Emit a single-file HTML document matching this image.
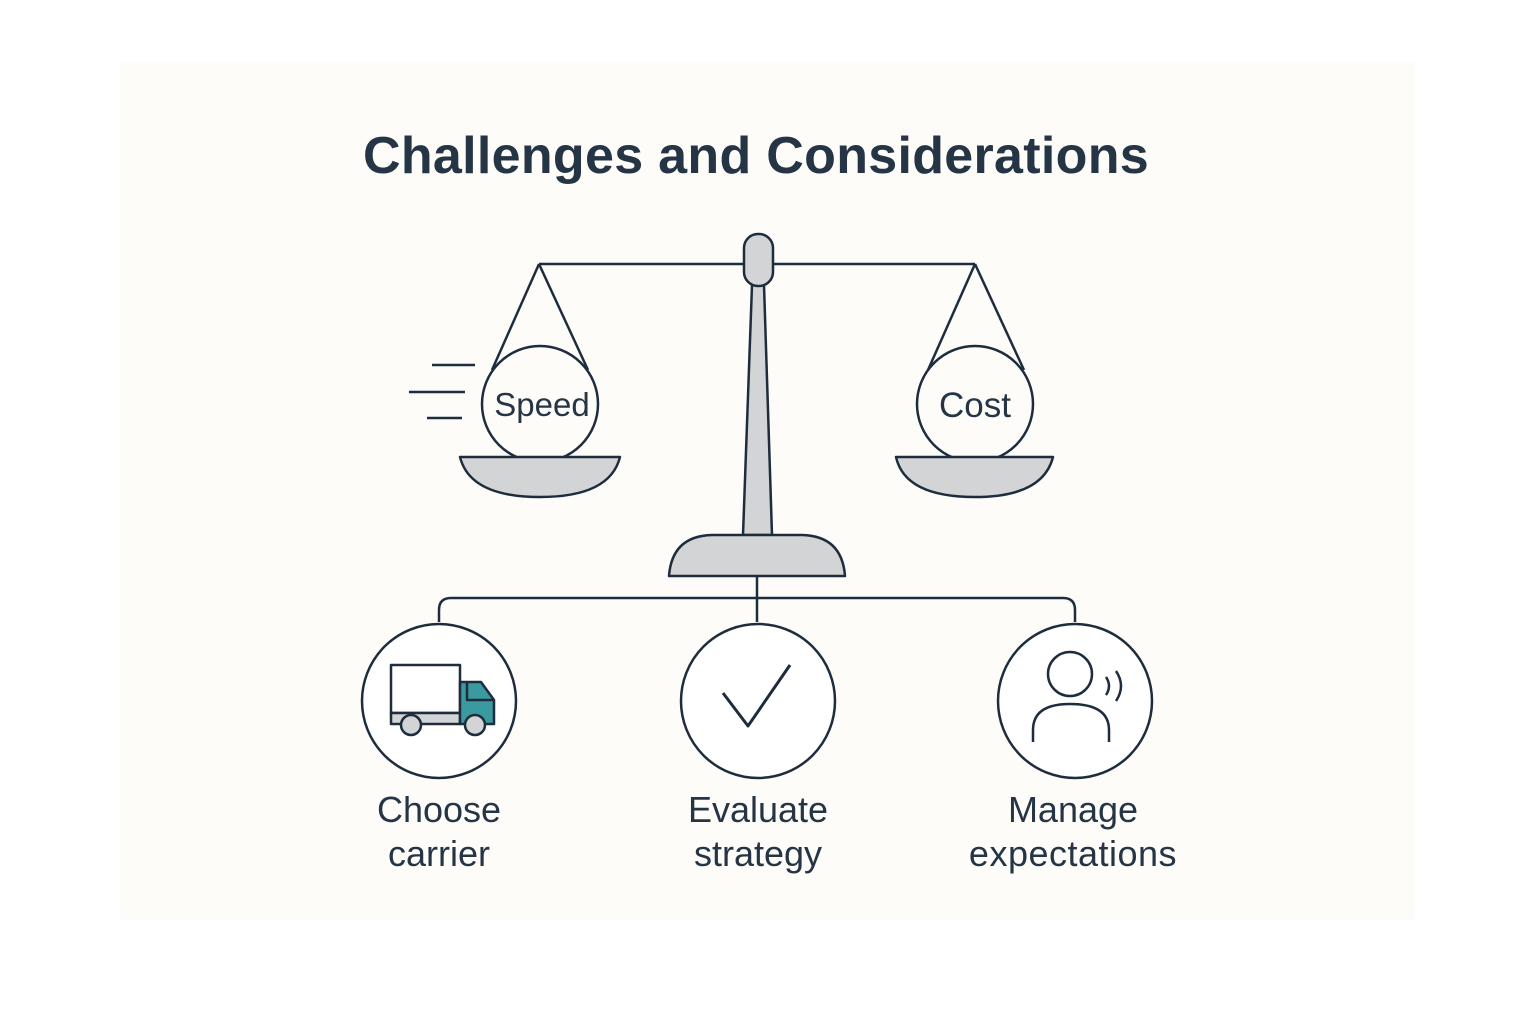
<!DOCTYPE html>
<html><head><style>
html,body{margin:0;padding:0;background:#fff;}
svg{display:block}
text{font-family:"Liberation Sans",sans-serif;fill:#253545}
</style></head><body>
<svg width="1536" height="1024" viewBox="0 0 1536 1024">
<rect x="120" y="62" width="1295" height="858" fill="#fdfcf8"/>
<text x="756" y="173" text-anchor="middle" font-size="52" font-weight="bold" letter-spacing="0.3">Challenges and Considerations</text>
<g stroke="#1e2d3d" stroke-width="2.5" fill="none" stroke-linejoin="round">
<line x1="539" y1="264" x2="975" y2="264"/>
<line x1="539" y1="264" x2="492" y2="370"/><line x1="539" y1="264" x2="588" y2="370"/>
<line x1="975" y1="264" x2="928" y2="370"/><line x1="975" y1="264" x2="1024" y2="370"/>
<polygon points="752,285 764,285 772,535 743,535" fill="#d3d4d5"/>
<rect x="744" y="234" width="29" height="52" rx="14" fill="#d3d4d5"/>
<path d="M669,576 Q672,536 712,535 L802,535 Q842,536 845,576 Z" fill="#d3d4d5"/>
<circle cx="540" cy="404" r="58" fill="#fdfcf8"/>
<circle cx="975" cy="404" r="58" fill="#fdfcf8"/>
<path d="M460,457 L620,457 Q610,497 540,497 Q470,497 460,457 Z" fill="#d3d4d5"/>
<path d="M896,457 L1053,457 Q1043,497 975,497 Q905,497 896,457 Z" fill="#d3d4d5"/>
<line x1="432" y1="365" x2="475" y2="365"/><line x1="409" y1="392" x2="465" y2="392"/><line x1="427" y1="418" x2="462" y2="418"/>
<path d="M757,576 L757,622"/>
<path d="M439,622 L439,610 Q439,598 451,598 L1063,598 Q1075,598 1075,610 L1075,622"/>
<circle cx="439" cy="701" r="77" fill="#fff"/>
<circle cx="758" cy="701" r="77" fill="#fff"/>
<circle cx="1075" cy="701" r="77" fill="#fff"/>
<rect x="391" y="665" width="69" height="48" fill="#fff"/>
<rect x="391" y="713" width="69" height="11" fill="#d3d4d5"/>
<path d="M460,682 L481,682 L494,700 L494,724 L460,724 Z" fill="#3b9aa0"/>
<path d="M467,682 L467,700 L494,700"/>
<circle cx="411" cy="725" r="10" fill="#d3d4d5"/>
<circle cx="475" cy="725" r="10" fill="#d3d4d5"/>
<path d="M723,693 L748,726 L790,665" stroke-width="3"/>
<circle cx="1070" cy="674" r="22"/>
<path d="M1033,742 L1033,730 Q1033,704 1070,704 Q1109,704 1109,730 L1109,742"/>
<path d="M1106,677 Q1112,686 1106,695"/><path d="M1116,671 Q1126,686 1116,701"/>
</g>
<text x="542" y="416" text-anchor="middle" font-size="33">Speed</text>
<text x="975" y="417" text-anchor="middle" font-size="35">Cost</text>
<g font-size="36" text-anchor="middle">
<text x="439" y="822">Choose</text><text x="439" y="866">carrier</text>
<text x="758" y="822">Evaluate</text><text x="758" y="866">strategy</text>
<text x="1073" y="822">Manage</text><text x="1073" y="866" letter-spacing="0.5">expectations</text>
</g>
</svg>
</body></html>
